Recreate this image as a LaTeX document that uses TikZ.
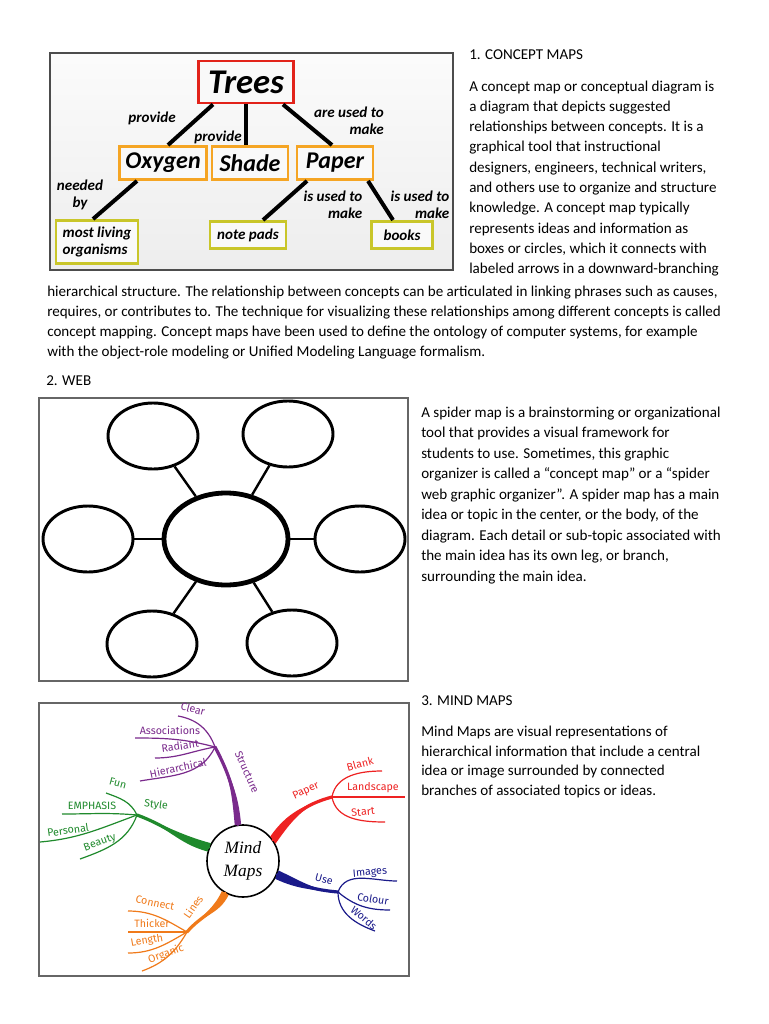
\documentclass[tikz,border=0pt]{standalone}
\usepackage{fontspec}
\setmainfont{Carlito}
\newfontfamily\handfont{Fira Sans}
\newfontfamily\mindfont{Liberation Serif}
\usetikzlibrary{shapes.geometric,calc}

\definecolor{treered}{HTML}{E2231A}
\definecolor{midorange}{HTML}{F5A524}
\definecolor{leafyellow}{HTML}{C9C62A}
\definecolor{mmpurple}{HTML}{7A2A8C}
\definecolor{mmgreen}{HTML}{1F8A2C}
\definecolor{mmred}{HTML}{EE2222}
\definecolor{mmnavy}{HTML}{1A1A8A}
\definecolor{mmorange}{HTML}{F07A1A}

\newcommand{\pxl}{0.75pt}

\begin{document}
\begin{tikzpicture}[x=0.75pt,y=-0.75pt,
  para/.style={anchor=base west,inner sep=0pt,font=\fontsize{11.3}{13}\selectfont},
  cmbox/.style={draw,line width=2.2pt,fill=gray!5,inner sep=1pt},
  cmlink/.style={line width=3pt},
  cmlabel/.style={font=\fontsize{11.3}{12.5}\selectfont\bfseries\itshape,inner sep=0pt},
  bubble/.style={draw,ellipse,line width=2.2pt,minimum width=90*\pxl,minimum height=66*\pxl},
  spoke/.style={line width=1.8pt},
  branch/.style={line width=2.4pt,line cap=round},
  twig/.style={line width=0.9pt},
  twiglabel/.style={font=\handfont\fontsize{8}{9}\selectfont,inner sep=0pt}
]
\useasboundingbox[fill=white] (0,0) rectangle (768,1024);

% 1. Concept maps: text
\node[para] (cmtitle) at (469,60) {1. CONCEPT MAPS};
\foreach \txt [count=\i] in {{A concept map or conceptual diagram is},
  {a diagram that depicts suggested},
  {relationships between concepts. It is a},
  {graphical tool that instructional},
  {designers, engineers, technical writers,},
  {and others use to organize and structure},
  {knowledge. A concept map typically},
  {represents ideas and information as},
  {boxes or circles, which it connects with},
  {labeled arrows in a downward-branching}}
  \node[para] (cmtext\i) at (469,{70.7+20.3*\i}) {\txt};
\foreach \txt [count=\i] in {{hierarchical structure. The relationship between concepts can be articulated in linking phrases such as causes,},
  {requires, or contributes to. The technique for visualizing these relationships among different concepts is called},
  {concept mapping. Concept maps have been used to define the ontology of computer systems, for example},
  {with the object-role modeling or Unified Modeling Language formalism.}}
  \node[para] (cmfull\i) at (47,{275.7+20.3*\i}) {\txt};

% 1. Concept maps: picture
\draw[black!70,line width=1pt,top color=gray!3,bottom color=gray!14] (50,53) rectangle (453,270);
\node[cmbox,draw=treered,minimum width=95*\pxl,minimum height=42*\pxl,
  font=\fontsize{26}{27}\selectfont\bfseries\itshape] (trees) at (246,82) {Trees};
\node[cmbox,draw=midorange,minimum width=87*\pxl,minimum height=33*\pxl,
  font=\fontsize{18}{19}\selectfont\bfseries\itshape] (oxygen) at (163,163) {Oxygen};
\node[cmbox,draw=midorange,minimum width=76*\pxl,minimum height=33*\pxl,
  font=\fontsize{18}{19}\selectfont\bfseries\itshape] (shade) at (250,163) {Shade};
\node[cmbox,draw=midorange,minimum width=76*\pxl,minimum height=33*\pxl,
  font=\fontsize{18}{19}\selectfont\bfseries\itshape] (paper) at (335,163) {Paper};
\node[cmbox,draw=leafyellow,minimum width=82*\pxl,minimum height=43*\pxl,align=left,
  font=\fontsize{11.3}{12.5}\selectfont\bfseries\itshape] (living) at (97,242) {most living\\organisms};
\node[cmbox,draw=leafyellow,minimum width=76*\pxl,minimum height=27*\pxl,
  font=\fontsize{11.3}{12.5}\selectfont\bfseries\itshape] (notepads) at (248,235) {note pads};
\node[cmbox,draw=leafyellow,minimum width=61*\pxl,minimum height=27*\pxl,
  font=\fontsize{11.3}{12.5}\selectfont\bfseries\itshape] (books) at (402,235) {books};
\draw[cmlink] ($(trees.south)+(-33,0)$) -- ($(oxygen.north)+(5,0)$);
\draw[cmlink] (trees.south) -- (trees.south |- shade.north);
\draw[cmlink] ($(trees.south)+(37,0)$) -- ($(paper.north)+(-3,0)$);
\draw[cmlink] ($(oxygen.south)+(-26,0)$) -- ($(living.north)+(-4,0)$);
\draw[cmlink] ($(paper.south)+(-28,0)$) -- ($(notepads.north)+(15,0)$);
\draw[cmlink] ($(paper.south)+(33,0)$) -- ($(books.north)+(-9,0)$);
\node[cmlabel] (provideox) at (152,118) {provide};
\node[cmlabel] (provideshade) at (218,137) {provide};
\node[cmlabel,align=right] (usedpaper) at (349,121) {are used to\\make};
\node[cmlabel,align=center] (neededby) at (80,195) {needed\\by};
\node[cmlabel,align=right] (usedpads) at (333,205) {is used to\\make};
\node[cmlabel,align=right] (usedbooks) at (420,205) {is used to\\make};

% 2. Web: text
\node[para] (webtitle) at (46,385) {2. WEB};
\foreach \txt [count=\i] in {{A spider map is a brainstorming or organizational},
  {tool that provides a visual framework for},
  {students to use. Sometimes, this graphic},
  {organizer is called a “concept map” or a “spider},
  {web graphic organizer”. A spider map has a main},
  {idea or topic in the center, or the body, of the},
  {diagram. Each detail or sub-topic associated with},
  {the main idea has its own leg, or branch,},
  {surrounding the main idea.}}
  \node[para] (webtext\i) at (421,{396.5+20.5*\i}) {\txt};

% 2. Web: picture
\draw[black!60,line width=0.8pt] (39,398) rectangle (408,681);
\node[bubble,line width=3.6pt,minimum width=124*\pxl,minimum height=92*\pxl] (hub) at (226,539) {};
\node[bubble] (tl) at (153,436) {};
\node[bubble] (tr) at (288,434) {};
\node[bubble] (ml) at (88,539) {};
\node[bubble] (mr) at (360,539) {};
\node[bubble] (bl) at (152,644) {};
\node[bubble] (br) at (292,643) {};
\foreach \b in {tl,tr,ml,mr,bl,br}
  \draw[spoke] (hub) -- (\b);

% 3. Mind maps: text
\node[para] (mmtitle) at (421,705) {3. MIND MAPS};
\foreach \txt [count=\i] in {{Mind Maps are visual representations of},
  {hierarchical information that include a central},
  {idea or image surrounded by connected},
  {branches of associated topics or ideas.}}
  \node[para] (mmtext\i) at (421,{716.4+19.8*\i}) {\txt};

% 3. Mind maps: picture
\draw[black!60,line width=0.8pt] (39,703) rectangle (409,976);
\node[circle,draw,line width=1.2pt,minimum size=72*\pxl,inner sep=0pt,align=center,
  font=\mindfont\itshape\fontsize{13}{17}\selectfont] (mind) at (243,861) {Mind\\Maps};
\coordinate (sthub) at (215,747);
\coordinate (syhub) at (137,815);
\coordinate (pahub) at (332,797);
\coordinate (ushub) at (338,892);
\coordinate (lihub) at (187,932);
% main branches: a wedge from the circle plus a line to the hub
\foreach \col/\a/\b/\c/\outa/\ina/\hub in {mmpurple/93/98/103/95/-62/sthub,
  mmgreen/151/158/165/165/-20/syhub,
  mmred/28/35/42/55/-165/pahub,
  mmnavy/-29/-22/-15/-25/175/ushub,
  mmorange/-125/-119/-113/-115/50/lihub} {
  \fill[\col] (mind.\a) to[out=\outa,in=\ina] (\hub) to[out=\ina,in=\outa] (mind.\c) -- cycle;
  \draw[branch,\col] (mind.\b) to[out=\outa,in=\ina] (\hub);
}
\node[twiglabel,mmpurple,rotate=-66] (lblstructure) at (247,772) {Structure};
\node[twiglabel,mmgreen,rotate=-8] (lblstyle) at (156,805) {Style};
\node[twiglabel,mmred,rotate=25] (lblpaper) at (306,791) {Paper};
\node[twiglabel,mmnavy,rotate=-15] (lbluse) at (324,879) {Use};
\node[twiglabel,mmorange,rotate=55] (lbllines) at (193,907) {Lines};
\foreach \col/\hub/\outa/\ina/\ex/\ey/\lx/\ly/\rot/\word in {
  mmpurple/sthub/110/-10/178/716/193/709/-15/Clear,
  mmpurple/sthub/165/0/135/738/170/730/0/Associations,
  mmpurple/sthub/190/0/155/758/180/746/8/Radiant,
  mmpurple/sthub/245/10/140/781/178/768/12/Hierarchical,
  mmgreen/syhub/115/-20/106/793/118/783/-15/Fun,
  mmgreen/syhub/175/0/62/814/92/806/0/EMPHASIS,
  mmgreen/syhub/200/5/40/842/68/830/8/Personal,
  mmgreen/syhub/250/20/80/859/100/843/20/Beauty,
  mmred/pahub/80/180/382/771/360/764/15/Blank,
  mmred/pahub/0/180/405/797/373/788/0/Landscape,
  mmred/pahub/-80/180/385/822/363/812/5/Start,
  mmnavy/ushub/70/180/397/881/370/873/5/Images,
  mmnavy/ushub/-40/180/390/910/373/899/-10/Colour,
  mmnavy/ushub/-90/160/375/931/364/918/-40/Words,
  mmorange/lihub/150/0/128/911/155/903/-12/Connect,
  mmorange/lihub/180/0/128/932/152/923/0/Thicker,
  mmorange/lihub/210/0/128/953/147/941/10/Length,
  mmorange/lihub/240/20/142/971/166/954/20/Organic} {
  \coordinate (end\word) at (\ex,\ey);
  \draw[twig,\col] (\hub) to[out=\outa,in=\ina] (end\word);
  \node[twiglabel,\col,rotate=\rot] (lbl\word) at (\lx,\ly) {\word};
}
\end{tikzpicture}
\end{document}
